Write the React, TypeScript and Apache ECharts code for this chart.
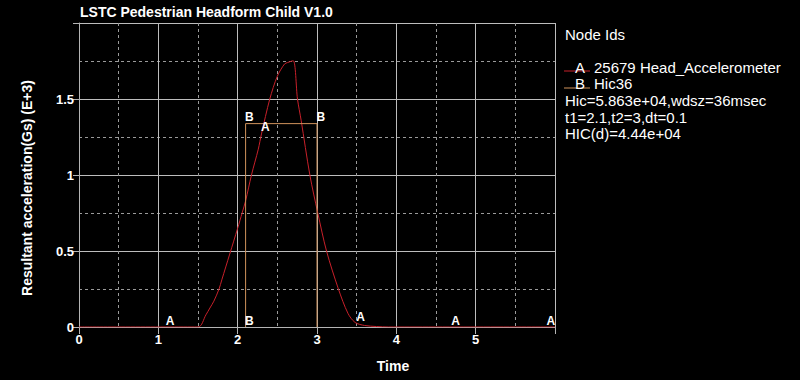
import React, { useEffect, useRef } from "react";
import * as echarts from "echarts";

// Curve A: 25679 Head_Accelerometer (time, resultant acceleration in E+3 Gs)
const curveTime = [0, 1.5, 1.6, 1.65, 1.7, 1.765, 1.8, 1.9, 2.0, 2.056, 2.1, 2.174, 2.26, 2.3, 2.405, 2.5, 2.59, 2.63, 2.7, 2.754, 2.8, 2.91, 3.01, 3.12, 3.27, 3.39, 3.48, 3.6, 3.75, 3.9, 6.0];
const curveValue = [0, 0, 0.08, 0.125, 0.17, 0.25, 0.31, 0.48, 0.65, 0.75, 0.83, 1.0, 1.17, 1.27, 1.5, 1.65, 1.73, 1.74, 1.752, 1.5, 1.36, 1.0, 0.75, 0.5, 0.25, 0.09, 0.03, 0.01, 0.003, 0, 0];

// Curve B: Hic36 window
const hicTime = [2.1, 2.1, 3.0, 3.0];
const hicValue = [0, 1.338, 1.338, 0];

// Curve id labels along the curves
const labelATime = [1.1, 2.3, 3.5, 4.7, 5.9];
const labelAValue = [0, 1.27, 0.025, 0, 0];
const labelBTime = [2.1, 3.0, 2.1];
const labelBValue = [1.338, 1.338, 0];

const xTicks = [0, 1, 2, 3, 4, 5];
const yTicks = [0, 0.5, 1, 1.5];

const title = "LSTC Pedestrian Headform Child V1.0";
const xTitle = "Time";
const yTitle = "Resultant acceleration(Gs) (E+3)";
const legendHeader = "Node Ids";
const legendA = "25679 Head_Accelerometer";
const legendB = "Hic36";
const infoLines = ["Hic=5.863e+04,wdsz=36msec", "t1=2.1,t2=3,dt=0.1", "HIC(d)=4.44e+04"];

const RED = "#c8202a";
const TAN = "#d0935c";
const FONT = "Liberation Sans, Arial, sans-serif";

export default function App() {
  const ref = useRef<HTMLDivElement>(null);
  useEffect(() => {
    document.body.style.margin = "0";
    document.body.style.background = "#000";
    const chart = echarts.init(ref.current!, null, { renderer: "svg" });
    const zip = (a: number[], b: number[]) => a.map((t, i) => [t, b[i]]);
    const labelStyle = {
      show: true,
      position: [0, 0] as any,
      align: "left",
      verticalAlign: "bottom",
      color: "#fff",
      opacity: 1,
      fontSize: 12,
      fontWeight: "bold",
      fontFamily: FONT,
    };
    chart.setOption({
      animation: false,
      backgroundColor: "#000",
      grid: { left: 79, right: 245, top: 23, bottom: 53 },
      xAxis: {
        type: "value",
        min: 0,
        max: 6,
        interval: 1,
        axisLine: { show: true, onZero: false, lineStyle: { color: "#b4b4b4", width: 1 } },
        axisTick: { show: true, length: 7, lineStyle: { color: "#b4b4b4" } },
        axisLabel: {
          color: "#fff",
          fontSize: 13,
          fontWeight: "bold",
          fontFamily: FONT,
          margin: 6,
          formatter: (v: number) => (xTicks.includes(v) ? String(v) : ""),
        },
        splitLine: { show: true, lineStyle: { color: "#bdbdbd", width: 1 } },
        minorTick: { show: false, splitNumber: 2 },
        minorSplitLine: { show: true, lineStyle: { color: "#9a9a9a", type: [3, 3], width: 1 } },
      },
      yAxis: {
        type: "value",
        min: 0,
        max: 2,
        interval: 0.5,
        axisLine: { show: true, onZero: false, lineStyle: { color: "#b4b4b4", width: 1 } },
        axisTick: { show: true, length: 6, lineStyle: { color: "#b4b4b4" } },
        axisLabel: {
          color: "#fff",
          fontSize: 13,
          fontWeight: "bold",
          fontFamily: FONT,
          margin: 5,
          formatter: (v: number) => (yTicks.includes(v) ? String(v) : ""),
        },
        splitLine: { show: true, lineStyle: { color: "#bdbdbd", width: 1 } },
        minorTick: { show: false, splitNumber: 2 },
        minorSplitLine: { show: true, lineStyle: { color: "#9a9a9a", type: [3, 3], width: 1 } },
      },
      series: [
        {
          type: "line",
          data: zip(curveTime, curveValue),
          symbol: "none",
          smooth: 0.3,
          lineStyle: { color: RED, width: 1 },
          z: 3,
        },
        {
          type: "line",
          data: zip(hicTime, hicValue),
          symbol: "none",
          lineStyle: { color: TAN, width: 1 },
          z: 3,
        },
        {
          type: "scatter",
          data: zip(labelATime, labelAValue),
          symbolSize: 1,
          itemStyle: { color: "rgba(0,0,0,0)", opacity: 1 },
          label: { ...labelStyle, formatter: "A" },
          z: 4,
        },
        {
          type: "scatter",
          data: zip(labelBTime, labelBValue),
          symbolSize: 1,
          itemStyle: { color: "rgba(0,0,0,0)", opacity: 1 },
          label: { ...labelStyle, formatter: "B" },
          z: 4,
        },
      ],
      graphic: [
        {
          type: "text",
          left: 80,
          top: 5,
          style: { text: title, fill: "#fff", font: `bold 14px ${FONT}` },
        },
        {
          type: "text",
          x: 393,
          y: 366,
          style: { text: xTitle, fill: "#fff", font: `bold 14px ${FONT}`, align: "center", verticalAlign: "middle" },
        },
        {
          type: "text",
          x: 27,
          y: 188,
          rotation: Math.PI / 2,
          style: { text: yTitle, fill: "#fff", font: `bold 14px ${FONT}`, align: "center", verticalAlign: "middle" },
        },
        {
          type: "text",
          x: 565,
          y: 34,
          style: { text: legendHeader, fill: "#fff", font: `15px ${FONT}`, verticalAlign: "middle" },
        },
        {
          type: "line",
          shape: { x1: 564, y1: 71, x2: 590, y2: 71 },
          style: { stroke: RED, lineWidth: 1 },
        },
        {
          type: "text",
          x: 575,
          y: 67,
          style: { text: "A", fill: "#fff", font: `15px ${FONT}`, verticalAlign: "middle" },
        },
        {
          type: "text",
          x: 594,
          y: 67,
          style: { text: legendA, fill: "#fff", font: `15px ${FONT}`, verticalAlign: "middle" },
        },
        {
          type: "line",
          shape: { x1: 564, y1: 88, x2: 590, y2: 88 },
          style: { stroke: TAN, lineWidth: 1 },
        },
        {
          type: "text",
          x: 575,
          y: 83,
          style: { text: "B", fill: "#fff", font: `15px ${FONT}`, verticalAlign: "middle" },
        },
        {
          type: "text",
          x: 594,
          y: 83,
          style: { text: legendB, fill: "#fff", font: `15px ${FONT}`, verticalAlign: "middle" },
        },
        ...infoLines.map((t, i) => ({
          type: "text",
          x: 565,
          y: 100.5 + i * 16.5,
          style: { text: t, fill: "#fff", font: `15px ${FONT}`, verticalAlign: "middle" },
        })),
      ],
    });
    return () => chart.dispose();
  }, []);
  return <div ref={ref} style={{ width: 800, height: 380, background: "#000" }} />;
}
